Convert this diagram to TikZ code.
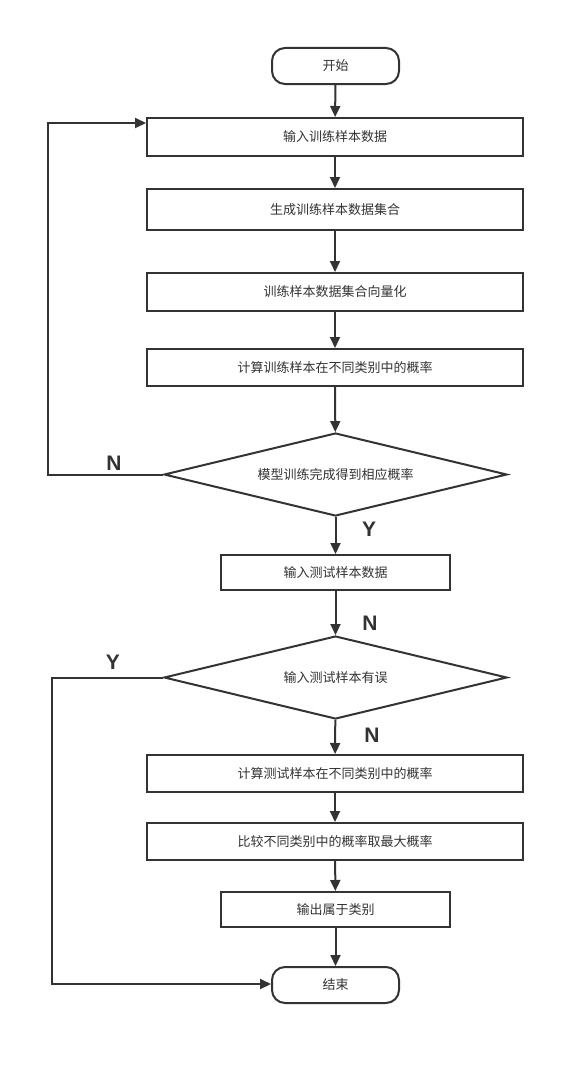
\documentclass[tikz,border=0pt]{standalone}
\usepackage{fontspec}
\setmainfont{Liberation Sans}
\newfontfamily\cjk{Noto Sans CJK SC}
\usetikzlibrary{arrows.meta,positioning,shapes.geometric,calc}
\definecolor{linegray}{HTML}{333333}

\begin{document}
\begin{tikzpicture}[
  x=1pt,y=-1pt,
  proc/.style={draw=linegray, line width=2pt, minimum width=376pt, minimum height=38pt, inner sep=0pt, font=\cjk\fontsize{13pt}{15pt}\selectfont, text=linegray},
  short/.style={proc, minimum width=229pt, minimum height=35pt},
  term/.style={draw=linegray, line width=2pt, rounded corners=13pt, minimum width=127pt, minimum height=36pt, inner sep=0pt, font=\cjk\fontsize{13pt}{15pt}\selectfont, text=linegray},
  decide/.style={draw=linegray, line width=2pt, diamond, aspect=4.13, minimum width=343pt, minimum height=83pt, inner sep=0pt, font=\cjk\fontsize{13pt}{15pt}\selectfont, text=linegray},
  yn/.style={font=\bfseries\fontsize{21pt}{23pt}\selectfont, text=linegray},
  arr/.style={-{Triangle[length=11pt,width=10pt]}, line width=2pt, draw=linegray}
]
\useasboundingbox[fill=white] (0,0) rectangle (585,1065);
\node[term] (start) at (335.5,66) {开始};
\node[proc] (input) at (335,137) {输入训练样本数据};
\node[proc, minimum height=41pt] (gen) at (335,209.5) {生成训练样本数据集合};
\node[proc] (vec) at (335,292) {训练样本数据集合向量化};
\node[proc, minimum height=37pt] (prob) at (335,367.5) {计算训练样本在不同类别中的概率};
\node[decide] (done) at (335.5,474.5) {模型训练完成得到相应概率};
\node[short] (test) at (335.5,572.5) {输入测试样本数据};
\node[decide] (err) at (335.5,677.5) {输入测试样本有误};
\node[proc, minimum height=37pt] (tprob) at (335,773.5) {计算测试样本在不同类别中的概率};
\node[proc, minimum height=37pt] (cmp) at (335,841.5) {比较不同类别中的概率取最大概率};
\node[short] (out) at (335.5,909.5) {输出属于类别};
\node[term] (stop) at (335.5,985) {结束};
\coordinate (back) at (input.west |- 0,123);
\coordinate (toend) at (stop.west |- 0,984);
\draw[arr] (start) -- (input);
\draw[arr] (input) -- (gen);
\draw[arr] (gen) -- (vec);
\draw[arr] (vec) -- (prob);
\draw[arr] (prob) -- (done);
\draw[arr] (done) -- (test);
\draw[arr] (test) -- (err);
\draw[arr] (err) -- (tprob);
\draw[arr] (tprob) -- (cmp);
\draw[arr] (cmp) -- (out);
\draw[arr] (out) -- (stop);
\draw[arr] (done.west) -- (48,474.5) -- (48,123) -- (back);
\draw[arr] (err.west) -- (52,677.5) -- (52,984) -- (toend);
\node[yn] (n1) at (114,463) {N};
\node[yn] (y1) at (369,529) {Y};
\node[yn] (n2) at (370,623) {N};
\node[yn] (y2) at (113,662) {Y};
\node[yn] (n3) at (372,735) {N};
\end{tikzpicture}
\end{document}
